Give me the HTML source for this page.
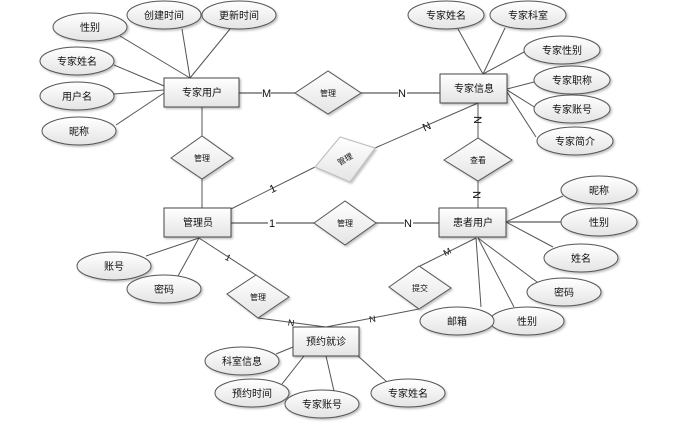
<!DOCTYPE html>
<html><head><meta charset="utf-8"><style>
html,body{margin:0;padding:0;background:#fff;}
svg text{font-family:"Liberation Sans","Noto Sans CJK SC",sans-serif;fill:#111;}
</style></head><body>
<svg width="685" height="427" viewBox="0 0 685 427" xmlns="http://www.w3.org/2000/svg">
<defs>
<linearGradient id="g" x1="0" y1="0" x2="0" y2="1"><stop offset="0" stop-color="#ffffff"/><stop offset="1" stop-color="#e4e4e4"/></linearGradient>
<filter id="s" x="-20%" y="-20%" width="150%" height="160%"><feDropShadow dx="1.5" dy="1.5" stdDeviation="1" flood-color="#000" flood-opacity="0.25"/></filter>
</defs>
<g stroke="#555" stroke-width="1" fill="none">
<line x1="190" y1="78" x2="120" y2="36"/><line x1="190" y1="78" x2="182" y2="29"/><line x1="190" y1="78" x2="230" y2="29"/>
<line x1="114" y1="65" x2="164" y2="86"/><line x1="114" y1="94" x2="164" y2="90"/><line x1="116" y1="125" x2="164" y2="93"/>
<line x1="239" y1="93" x2="295" y2="93" stroke="#777" stroke-width="1.5"/><line x1="361" y1="93" x2="440" y2="93" stroke="#777" stroke-width="1.5"/>
<line x1="202" y1="107" x2="202" y2="136"/><line x1="202" y1="179" x2="202" y2="208"/>
<line x1="231" y1="209" x2="315" y2="167"/><line x1="375" y1="148" x2="478" y2="103"/>
<line x1="483" y1="74" x2="458" y2="29"/><line x1="483" y1="74" x2="505" y2="28"/><line x1="483" y1="74" x2="524" y2="52"/>
<line x1="507" y1="89" x2="534" y2="82"/><line x1="507" y1="90" x2="536" y2="108"/><line x1="507" y1="92" x2="536" y2="137"/>
<line x1="478" y1="103" x2="478" y2="138"/><line x1="478" y1="181" x2="478" y2="208"/>
<line x1="506" y1="222" x2="563" y2="196"/><line x1="506" y1="222" x2="561" y2="222" stroke="#777" stroke-width="1.5"/><line x1="506" y1="222" x2="553" y2="247"/>
<line x1="478" y1="238" x2="537" y2="282"/><line x1="478" y1="238" x2="514" y2="307"/><line x1="476" y1="238" x2="481" y2="307"/>
<line x1="476" y1="238" x2="420" y2="266"/><line x1="419" y1="309" x2="326" y2="327"/>
<line x1="164" y1="223" x2="314" y2="223" stroke="#777" stroke-width="1.5"/><line x1="376" y1="223" x2="439" y2="223" stroke="#777" stroke-width="1.5"/>
<line x1="199" y1="238" x2="146" y2="256"/><line x1="199" y1="238" x2="178" y2="276"/>
<line x1="199" y1="238" x2="256" y2="275"/><line x1="258" y1="318" x2="326" y2="327"/>
<line x1="293" y1="347" x2="276" y2="354"/><line x1="304" y1="356" x2="282" y2="384"/><line x1="326" y1="356" x2="334" y2="391"/><line x1="358" y1="356" x2="387" y2="382"/>
</g>
<g fill="#fff" font-size="11">
<rect x="262" y="88" width="9" height="11"/><text x="262" y="97" font-size="11">M</text>
<rect x="398" y="88" width="9" height="11"/><text x="398" y="97" font-size="11">N</text>
<text x="269" y="192" font-size="11" transform="rotate(-25 273 187)">1</text>
<text x="422" y="130" font-size="11" transform="rotate(-25 427 125)">N</text>
<text x="474" y="124" font-size="11" transform="rotate(90 478 120)">N</text>
<text x="473" y="199" font-size="11" transform="rotate(90 477 195)">N</text>
<rect x="268" y="218" width="8" height="11"/><text x="269" y="227">1</text>
<rect x="404" y="218" width="9" height="11"/><text x="404" y="227">N</text>
<text x="443" y="255" font-size="9" transform="rotate(-28 447 251)">M</text>
<text x="369" y="322" font-size="9" transform="rotate(-10 373 318)">N</text>
<text x="226" y="261" font-size="9" transform="rotate(30 229 257)">1</text>
<text x="288" y="326" font-size="9" transform="rotate(8 292 322)">N</text>
</g>
<g filter="url(#s)" stroke="#444" stroke-width="1" fill="url(#g)">
<rect x="164" y="78" width="75" height="29"/>
<rect x="440" y="74" width="67" height="29"/>
<rect x="164" y="208" width="67" height="29"/>
<rect x="439" y="208" width="67" height="29"/>
<rect x="293" y="327" width="66" height="29"/>
</g>
<g filter="url(#s)" stroke="#555" stroke-width="1" fill="url(#g)">
<polygon points="295,93 328,71 361,93 328,114"/>
<polygon points="171,158 202,136 233,158 202,179"/>
<polygon points="444,160 478,138 512,160 478,181"/>
<polygon points="314,223 345,201 376,223 345,245"/>
<polygon points="227,294 256,275 289,297 258,318"/>
<polygon points="389,287 419,266 451,288 419,309"/>
</g>
<polygon points="315,167 340,137 375,148 350,182" fill="url(#g)" stroke="#bbb" filter="url(#s)"/>
<g filter="url(#s)" stroke="#555" stroke-width="1" fill="url(#g)">
<ellipse cx="90" cy="27" rx="37" ry="14"/>
<ellipse cx="164" cy="15" rx="37" ry="14"/>
<ellipse cx="239" cy="15" rx="37" ry="14"/>
<ellipse cx="77" cy="61" rx="37" ry="14"/>
<ellipse cx="77" cy="96" rx="37" ry="14"/>
<ellipse cx="79" cy="131" rx="37" ry="14"/>
<ellipse cx="446" cy="15" rx="38" ry="14"/>
<ellipse cx="528" cy="15" rx="38" ry="14"/>
<ellipse cx="562" cy="50" rx="38" ry="14"/>
<ellipse cx="572" cy="80" rx="38" ry="14"/>
<ellipse cx="572" cy="109" rx="38" ry="14"/>
<ellipse cx="575" cy="141" rx="38" ry="14"/>
<ellipse cx="599" cy="190" rx="38" ry="14"/>
<ellipse cx="599" cy="222" rx="38" ry="14"/>
<ellipse cx="581" cy="258" rx="37" ry="14"/>
<ellipse cx="564" cy="292" rx="37" ry="14"/>
<ellipse cx="527" cy="321" rx="37" ry="14"/>
<ellipse cx="457" cy="321" rx="37" ry="14"/>
<ellipse cx="114" cy="266" rx="37" ry="14"/>
<ellipse cx="164" cy="289" rx="37" ry="14"/>
<ellipse cx="242" cy="361" rx="37" ry="14"/>
<ellipse cx="252" cy="393" rx="37" ry="14"/>
<ellipse cx="322" cy="404" rx="37" ry="14"/>
<ellipse cx="408" cy="393" rx="37" ry="14"/>
</g>
<g font-size="10" text-anchor="middle">
<text x="202" y="96">专家用户</text>
<text x="474" y="92">专家信息</text>
<text x="198" y="226">管理员</text>
<text x="473" y="226">患者用户</text>
<text x="326" y="345">预约就诊</text>
<text x="90" y="31">性别</text><text x="164" y="19">创建时间</text><text x="239" y="19">更新时间</text>
<text x="77" y="65">专家姓名</text><text x="77" y="100">用户名</text><text x="79" y="135">昵称</text>
<text x="446" y="19">专家姓名</text><text x="528" y="19">专家科室</text><text x="562" y="54">专家性别</text>
<text x="572" y="84">专家职称</text><text x="572" y="113">专家账号</text><text x="575" y="145">专家简介</text>
<text x="599" y="194">昵称</text><text x="599" y="226">性别</text><text x="581" y="262">姓名</text>
<text x="564" y="296">密码</text><text x="527" y="325">性别</text><text x="457" y="325">邮箱</text>
<text x="114" y="270">账号</text><text x="164" y="293">密码</text>
<text x="242" y="365">科室信息</text><text x="252" y="397">预约时间</text><text x="322" y="408">专家账号</text><text x="408" y="397">专家姓名</text>
</g>
<g font-size="8" text-anchor="middle">
<text x="328" y="96">管理</text><text x="202" y="161">管理</text><text x="478" y="163">查看</text>
<text x="345" y="226">管理</text><text x="258" y="300">管理</text><text x="420" y="291">提交</text>
<text x="345" y="162" transform="rotate(-30 345 159)" fill="#555">管理</text>
</g>
</svg>
</body></html>
